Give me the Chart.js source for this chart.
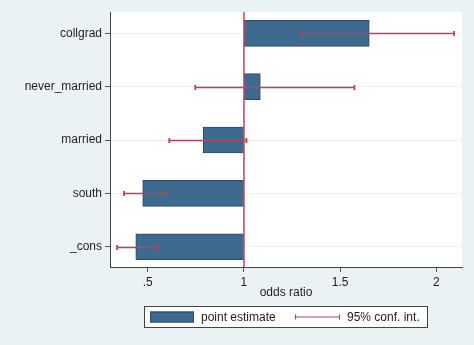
<!DOCTYPE html>
<html>
<head>
<meta charset="utf-8">
<script src="https://cdn.jsdelivr.net/npm/chart.js@4"></script>
<style>
html,body{margin:0;padding:0;background:#eaf2f3;}
#wrap{width:474px;height:345px;position:relative;}
</style>
</head>
<body>
<div id="wrap"><canvas id="c" width="474" height="345"></canvas></div>
<script>
const categories = ['collgrad', 'never_married', 'married', 'south', '_cons'];
const pointEstimates = [1.651, 1.085, 0.789, 0.474, 0.438];
const ciLower = [1.301, 0.747, 0.612, 0.377, 0.341];
const ciUpper = [2.092, 1.574, 1.013, 0.593, 0.555];
const xTickValues = [0.5, 1, 1.5, 2];
const xTickLabels = ['.5', '1', '1.5', '2'];
const legendLabels = ['point estimate', '95% conf. int.'];
const xTitle = 'odds ratio';
const baseValue = 1;

const FONT = '"Liberation Sans", Arial, sans-serif';
const BAR_FILL = '#3f6a8f';
const BAR_BORDER = '#2b4a68';
const CI_COLOR = '#b2465a';
const REF_COLOR = '#c0506a';
const TEXT = '#1e1e1e';

const barData = categories.map((c, i) => ({ y: i + 1, x: [baseValue, pointEstimates[i]] }));

const bgPlugin = {
  id: 'bg',
  beforeDraw(chart) {
    const { ctx, chartArea: a } = chart;
    ctx.save();
    ctx.fillStyle = '#eaf2f3';
    ctx.fillRect(0, 0, chart.width, chart.height);
    ctx.fillStyle = '#ffffff';
    ctx.fillRect(a.left, a.top, a.right - a.left, a.bottom - a.top);
    ctx.restore();
  }
};

const overlayPlugin = {
  id: 'overlay',
  afterDatasetsDraw(chart) {
    const { ctx, chartArea: a } = chart;
    const xs = chart.scales.x, ys = chart.scales.y;
    ctx.save();
    ctx.strokeStyle = CI_COLOR;
    categories.forEach((c, i) => {
      const y = Math.round(ys.getPixelForValue(i + 1)) + 0.5;
      const x1 = xs.getPixelForValue(ciLower[i]);
      const x2 = xs.getPixelForValue(ciUpper[i]);
      ctx.lineWidth = 1.5;
      ctx.beginPath();
      ctx.moveTo(x1, y); ctx.lineTo(x2, y);
      ctx.stroke();
      ctx.lineWidth = 1.8;
      ctx.beginPath();
      ctx.moveTo(x1, y - 2.5); ctx.lineTo(x1, y + 2.5);
      ctx.moveTo(x2, y - 2.5); ctx.lineTo(x2, y + 2.5);
      ctx.stroke();
    });
    const xr = xs.getPixelForValue(baseValue);
    ctx.strokeStyle = REF_COLOR;
    ctx.lineWidth = 1.6;
    ctx.beginPath();
    ctx.moveTo(xr, a.top); ctx.lineTo(xr, a.bottom);
    ctx.stroke();
    ctx.restore();
  },
  afterDraw(chart) {
    const { ctx } = chart;
    ctx.save();
    const bx = 144.5, by = 306.5, bw = 283, bh = 21;
    ctx.fillStyle = '#ffffff';
    ctx.fillRect(bx, by, bw, bh);
    ctx.strokeStyle = '#444444';
    ctx.lineWidth = 1;
    ctx.strokeRect(bx, by, bw, bh);
    const cy = by + bh / 2;
    ctx.fillStyle = BAR_FILL;
    ctx.fillRect(150, cy - 5.5, 44, 11);
    ctx.strokeStyle = BAR_BORDER;
    ctx.strokeRect(150.5, cy - 5, 43, 10);
    ctx.strokeStyle = CI_COLOR;
    ctx.lineWidth = 1.2;
    ctx.beginPath();
    ctx.moveTo(295, cy); ctx.lineTo(340, cy);
    ctx.moveTo(295.5, cy - 2.5); ctx.lineTo(295.5, cy + 2.5);
    ctx.moveTo(339.5, cy - 2.5); ctx.lineTo(339.5, cy + 2.5);
    ctx.stroke();
    ctx.fillStyle = TEXT;
    ctx.font = '12px ' + FONT;
    ctx.textBaseline = 'middle';
    ctx.textAlign = 'left';
    ctx.fillText(legendLabels[0], 201, cy + 0.5);
    ctx.fillText(legendLabels[1], 347, cy + 0.5);
    ctx.restore();
  }
};

new Chart(document.getElementById('c'), {
  type: 'bar',
  data: {
    datasets: [{
      label: legendLabels[0],
      data: barData,
      backgroundColor: BAR_FILL,
      borderColor: BAR_BORDER,
      borderWidth: 1,
      borderSkipped: false,
      barThickness: 26,
      grouped: false
    }]
  },
  options: {
    indexAxis: 'y',
    responsive: false,
    animation: false,
    devicePixelRatio: 1,
    layout: { padding: { top: 12, right: 12, left: 0, bottom: 0 } },
    plugins: { legend: { display: false }, tooltip: { enabled: false } },
    scales: {
      x: {
        type: 'linear',
        min: 0.304,
        max: 2.133,
        afterBuildTicks(s) { s.ticks = xTickValues.map(v => ({ value: v })); },
        afterFit(s) { s.height = 78; },
        ticks: {
          callback: (v) => { const k = xTickValues.indexOf(v); return k >= 0 ? xTickLabels[k] : ''; },
          font: { family: FONT, size: 12 },
          color: TEXT,
          padding: 3,
          maxRotation: 0
        },
        grid: { drawOnChartArea: false, tickLength: 5, tickColor: '#555555', color: '#555555' },
        border: { color: '#444444', width: 1 },
        title: {
          display: true,
          text: xTitle,
          font: { family: FONT, size: 12 },
          color: TEXT,
          padding: { top: 0, bottom: 45 }
        }
      },
      y: {
        type: 'linear',
        reverse: true,
        offset: false,
        min: 0.6,
        max: 5.38,
        afterBuildTicks(s) { s.ticks = categories.map((c, i) => ({ value: i + 1 })); },
        afterFit(s) { s.width = 110; },
        ticks: {
          callback: (v) => categories[v - 1] || '',
          font: { family: FONT, size: 12 },
          color: TEXT,
          padding: 3
        },
        grid: { offset: false, color: '#eeeeee', tickLength: 5, tickColor: '#555555', lineWidth: 1 },
        border: { color: '#444444', width: 1 }
      }
    }
  },
  plugins: [bgPlugin, overlayPlugin]
});
</script>
</body>
</html>
